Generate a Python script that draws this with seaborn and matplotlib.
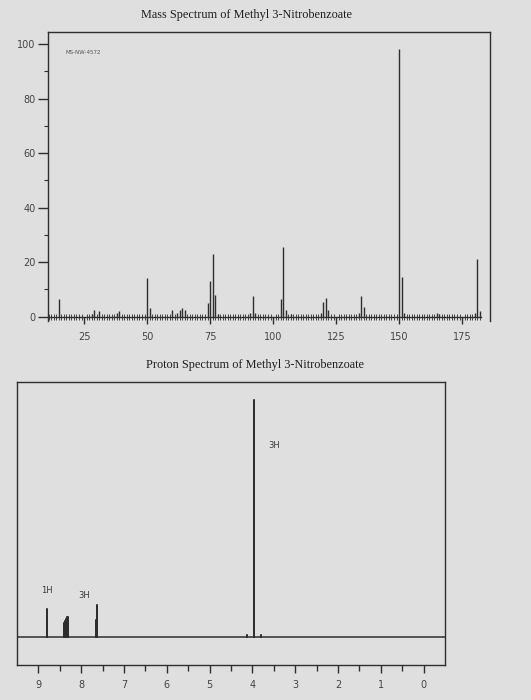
import numpy as np
import pandas as pd
import matplotlib
matplotlib.use('Agg')
import matplotlib.pyplot as plt
import seaborn as sns

# ------------------------------------------------------------
# Datos
# ------------------------------------------------------------
# Espectro de masas: m/z y abundancia relativa (%)
ms_mz = [15, 28, 29, 31, 38, 39, 50, 51, 60, 62, 63, 64, 65,
         74, 75, 76, 77, 78, 91, 92, 93, 103, 104, 105, 107,
         119, 120, 121, 122, 134, 135, 136, 150, 151, 152,
         165, 166, 180, 181, 182]
ms_int = [6.5, 1.0, 2.5, 2.0, 1.5, 2.0, 14.0, 3.0, 2.5, 1.5, 2.5, 3.0, 2.5,
          5.0, 13.0, 23.0, 8.0, 1.0, 1.5, 7.5, 1.5, 6.5, 25.5, 2.5, 1.0,
          1.5, 5.5, 7.0, 2.5, 1.5, 7.5, 3.5, 98.0, 14.5, 1.5,
          1.5, 0.8, 1.5, 21.0, 2.0]
ms_yticks = [0, 20, 40, 60, 80, 100]
ms_xticks = [25, 50, 75, 100, 125, 150, 175]

# Espectro de protón: desplazamiento (ppm) y altura
nmr_ppm = [8.81, 8.41, 8.39, 8.37, 8.35, 8.33, 8.31,
           7.645, 7.63, 4.13, 3.97, 3.79]
nmr_int = [11.0, 5.0, 5.8, 6.5, 7.2, 7.8, 8.0,
           7.0, 12.7, 0.8, 94.0, 0.8]
nmr_xticks = [9, 8, 7, 6, 5, 4, 3, 2, 1, 0]
nmr_labels = ['1H', '3H', '3H']
nmr_label_x = [8.80, 7.93, 3.48]
nmr_label_y = [18.6, 16.6, 75.9]

# ------------------------------------------------------------
# Estilo
# ------------------------------------------------------------
sns.set_theme(style='ticks')
bg = '#dedfde'
ink = '#2e2e2e'
plt.rcParams['font.family'] = ['DejaVu Sans']
plt.rcParams['axes.edgecolor'] = ink
plt.rcParams['xtick.color'] = ink
plt.rcParams['ytick.color'] = ink

fig = plt.figure(figsize=(5.31, 7.0), dpi=100, facecolor=bg)

# ------------------------------------------------------------
# 1. Espectro de masas
# ------------------------------------------------------------
ax1 = fig.add_axes([0.0904, 0.5414, 0.8324, 0.4129], facecolor=bg)
ms_df = pd.DataFrame({'mz': ms_mz, 'int': ms_int})
ax1.vlines(ms_df['mz'], 0, ms_df['int'], color=ink, lw=1.0)
ax1.set_xlim(10.7, 186.1)
ax1.set_ylim(-1.6, 104.4)
ax1.spines['bottom'].set_position(('data', 0))
ax1.spines['bottom'].set_bounds(10.7, 182.5)
for s in ax1.spines.values():
    s.set_linewidth(1.0)
ax1.set_xticks(ms_xticks)
ax1.set_xticks(np.arange(11, 183, 1), minor=True)
ax1.set_yticks(ms_yticks)
ax1.set_yticks([10, 30, 50, 70, 90], minor=True)
ax1.tick_params(axis='x', which='major', direction='out', length=5, width=1,
                labelsize=7, pad=6, labelcolor='#444444')
ax1.tick_params(axis='x', which='minor', direction='inout', length=4, width=0.6)
ax1.tick_params(axis='y', which='major', direction='out', length=7, width=1,
                labelsize=7, pad=2, labelcolor='#444444')
ax1.tick_params(axis='y', which='minor', direction='out', length=3, width=0.8)
ax1.text(17.5, 96.5, 'MS-NW-4572', fontsize=4, color='#555555',
         family='DejaVu Sans')
fig.text(0.465, 0.979, 'Mass Spectrum of Methyl 3-Nitrobenzoate',
         ha='center', va='center', fontsize=8.8, family='Liberation Serif',
         color='#1e1e1e')

# ------------------------------------------------------------
# 2. Espectro de protón
# ------------------------------------------------------------
xs, ys = [9.5], [0.0]
for p, h in sorted(zip(nmr_ppm, nmr_int), reverse=True):
    xs += [p, p, p]
    ys += [0.0, h, 0.0]
xs.append(-0.5)
ys.append(0.0)
nmr_df = pd.DataFrame({'ppm': xs, 'int': ys})

ax2 = fig.add_axes([0.032, 0.05, 0.806, 0.4043], facecolor=bg)
sns.lineplot(data=nmr_df, x='ppm', y='int', sort=False, estimator=None,
             color=ink, lw=1.1, ax=ax2)
ax2.set_xlim(9.5, -0.5)
ax2.set_ylim(-11, 101)
ax2.set_xlabel('')
ax2.set_ylabel('')
ax2.set_yticks([])
ax2.set_xticks(nmr_xticks)
ax2.set_xticks(np.arange(0.5, 9.0, 1.0), minor=True)
ax2.set_xticklabels([str(t) for t in nmr_xticks])
ax2.tick_params(axis='x', which='major', direction='out', length=6, width=1,
                labelsize=7, pad=5, labelcolor='#444444')
ax2.tick_params(axis='x', which='minor', direction='out', length=4, width=1)
for s in ax2.spines.values():
    s.set_linewidth(1.0)
for lab, lx, ly in zip(nmr_labels, nmr_label_x, nmr_label_y):
    ax2.text(lx, ly, lab, ha='center', va='center', fontsize=6,
             family='DejaVu Sans', color='#3a3a3a')
fig.text(0.48, 0.478, 'Proton Spectrum of Methyl 3-Nitrobenzoate',
         ha='center', va='center', fontsize=8.8, family='Liberation Serif',
         color='#1e1e1e')

fig.savefig('out.png', dpi=100, facecolor=bg)
